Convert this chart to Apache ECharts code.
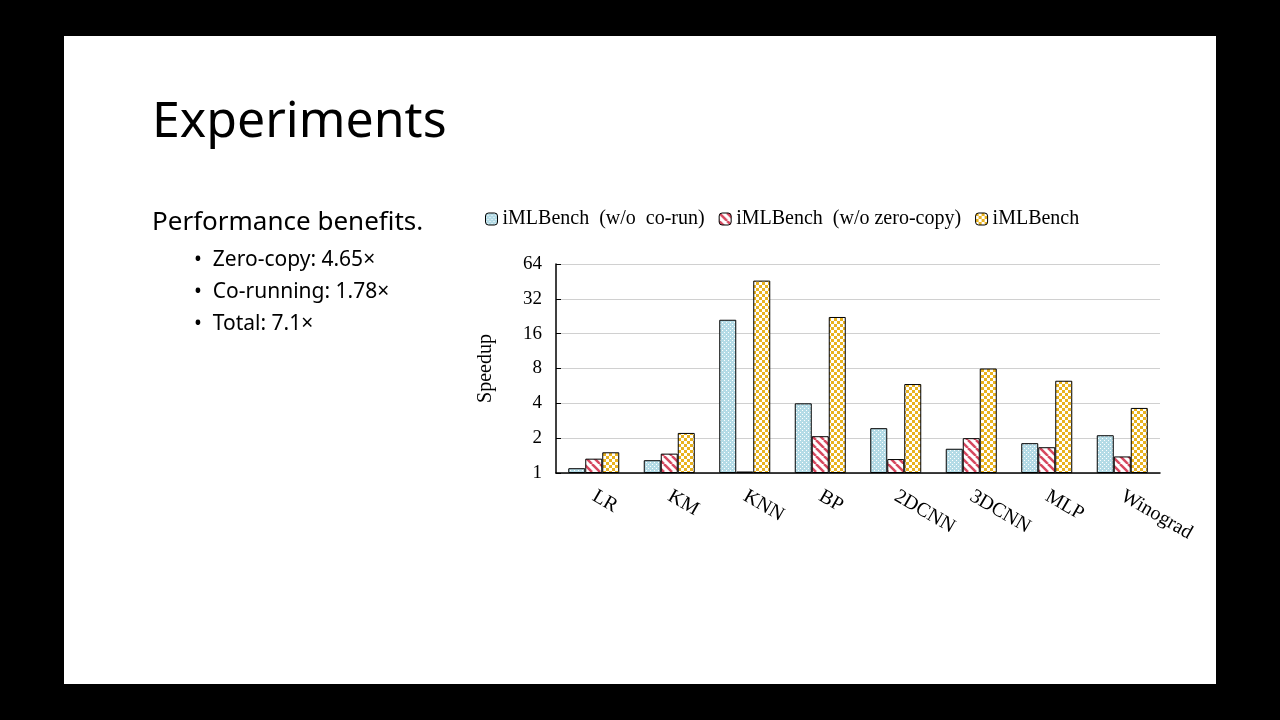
<!DOCTYPE html>
<html><head><meta charset="utf-8">
<script src="https://cdn.jsdelivr.net/npm/echarts@6/dist/echarts.min.js"></script>
<style>html,body{margin:0;background:#000}#chart{width:1280px;height:720px}</style>
</head><body><div id="chart"></div>
<script>
const categories = ['LR', 'KM', 'KNN', 'BP', '2DCNN', '3DCNN', 'MLP', 'Winograd'];
const noCorun = [1.10, 1.29, 21.1, 4.0, 2.44, 1.62, 1.81, 2.12];
const noZeroCopy = [1.33, 1.47, 1.03, 2.08, 1.32, 2.0, 1.67, 1.39];
const full = [1.51, 2.22, 46, 22.3, 5.87, 8.0, 6.27, 3.65];
const seriesNames = ['iMLBench  (w/o  co-run)', 'iMLBench  (w/o zero-copy)', 'iMLBench'];
const bullets = ['Zero-copy: 4.65×', 'Co-running: 1.78×', 'Total: 7.1×'];

function pattern(kind) {
  const c = document.createElement('canvas');
  const ctx = c.getContext('2d');
  if (kind === 'dots') {
    c.width = c.height = 4;
    ctx.fillStyle = '#b4dbe6'; ctx.fillRect(0, 0, 4, 4);
    ctx.fillStyle = '#ffffff'; ctx.fillRect(0, 0, 1, 1); ctx.fillRect(2, 2, 1, 1);
  } else if (kind === 'stripes') {
    c.width = c.height = 8;
    ctx.fillStyle = '#ffffff'; ctx.fillRect(0, 0, 8, 8);
    ctx.strokeStyle = '#d6475e'; ctx.lineWidth = 2.5;
    for (let i = -8; i <= 16; i += 8) {
      ctx.beginPath(); ctx.moveTo(i, 0); ctx.lineTo(i + 8, 8); ctx.stroke();
    }
  } else {
    c.width = c.height = 6;
    ctx.fillStyle = '#ffffff'; ctx.fillRect(0, 0, 6, 6);
    ctx.fillStyle = '#e9b320'; ctx.fillRect(0, 0, 3, 3); ctx.fillRect(3, 3, 3, 3);
  }
  return {image: c, repeat: 'repeat'};
}

const patterns = [pattern('dots'), pattern('stripes'), pattern('checks')];
const data = [noCorun, noZeroCopy, full];
const font = '"Liberation Serif", "Times New Roman", serif';
const sans = '"Noto Sans", "Open Sans", sans-serif';

const chart = echarts.init(document.getElementById('chart'));
chart.setOption({
  backgroundColor: '#000',
  animation: false,
  graphic: [
    {type: 'rect', shape: {x: 64, y: 36, width: 1152, height: 648}, style: {fill: '#fff'}, z: -10},
    {type: 'text', left: 152, top: 98, style: {text: 'Experiments', font: '50px ' + sans, fill: '#000'}},
    {type: 'text', left: 152, top: 210, style: {text: 'Performance benefits.', font: '26px ' + sans, fill: '#000'}},
    ...bullets.map((b, i) => ({type: 'text', left: 194, top: 250 + i * 32,
      style: {text: '•  ' + b, font: '21px ' + sans, fill: '#000'}}))
  ],
  legend: {
    top: 204, left: 480, itemGap: 14, itemWidth: 12, itemHeight: 12,
    textStyle: {fontFamily: font, fontSize: 20, color: '#000'},
    itemStyle: {borderColor: '#000', borderWidth: 1}
  },
  grid: {left: 556, right: 120, top: 264, bottom: 247},
  xAxis: {
    type: 'category', data: categories,
    axisLine: {lineStyle: {color: '#000', width: 1.5}},
    axisTick: {show: false},
    axisLabel: {rotate: -30, fontFamily: font, fontSize: 20, color: '#000', margin: 22}
  },
  yAxis: {
    type: 'log', logBase: 2, min: 1, max: 64,
    name: 'Speedup', nameLocation: 'middle', nameGap: 60,
    nameTextStyle: {fontFamily: font, fontSize: 20, color: '#000'},
    axisLine: {show: true, lineStyle: {color: '#000', width: 1.5}},
    axisTick: {show: true, inside: true, length: 5, lineStyle: {color: '#000'}},
    axisLabel: {fontFamily: font, fontSize: 19, color: '#000', margin: 14},
    splitLine: {lineStyle: {color: '#d0d0d0'}},
    minorTick: {show: false}
  },
  series: data.map((d, i) => ({
    name: seriesNames[i], type: 'bar', data: d,
    barWidth: 17, barGap: '0%', barCategoryGap: '40%',
    itemStyle: {color: patterns[i], borderColor: '#000', borderWidth: 1}
  }))
});
</script></body></html>
